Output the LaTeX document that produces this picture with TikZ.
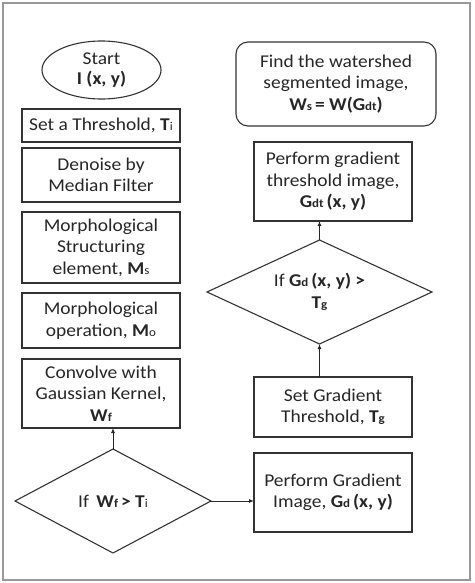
\documentclass[tikz,border=0pt]{standalone}
\usepackage{fontspec}
\setmainfont{Carlito}[FakeStretch=1.08]
\usetikzlibrary{shapes.geometric,arrows.meta}
\newcommand\mysub[1]{{\fontsize{12}{12}\selectfont #1}}
\begin{document}
\begin{tikzpicture}[x=1pt,y=-1pt,
  every node/.style={font=\fontsize{18}{21.5}\selectfont, text=black!85, align=center, inner sep=0pt, outer sep=0pt},
  box/.style={draw=black!80, line width=1.1pt, rectangle, minimum width=158pt},
  rbox/.style={box, rounded corners=12pt},
  oval/.style={draw=black!80, line width=1.1pt, ellipse},
  dia/.style={draw=black!80, line width=1.1pt, diamond},
  arr/.style={draw=black!85, line width=0.9pt, -{Latex[length=5pt,width=4pt]}}
]
\useasboundingbox (0,0) rectangle (474,583);
\draw[gray!80, line width=1.4pt] (3,3) rectangle (470,580);

\node[oval, minimum width=119pt, minimum height=58pt] (start) at (101.5,70) {Start\\[-2pt]\textbf{I (x, y)}};
\node[box, minimum height=33pt] (t1) at (101,125.5) {Set a Threshold, \textbf{T}\mysub{i}};
\node[box, minimum height=54pt] (t2) at (101,175) {Denoise by\\Median Filter};
\node[box, minimum height=71pt] (t3) at (101,247.5) {Morphological\\Structuring\\element, \textbf{M}\mysub{s}};
\node[box, minimum height=55pt] (t4) at (101,320.5) {Morphological\\operation, \textbf{M}\mysub{o}};
\node[box, minimum height=69pt] (t5) at (101,393.5) {Convolve with\\Gaussian Kernel,\\\textbf{W}\mysub{\textbf{f}}};
\node[dia, minimum width=196pt, minimum height=104pt, aspect=1.9] (d1) at (113,501) {If \,\textbf{W}\mysub{\textbf{f}}\,\textbf{> T}\mysub{i}};

\node[box, minimum height=79pt] (g1) at (333,492.5) {Perform Gradient\\Image, \textbf{G}\mysub{\textbf{d}}\,\textbf{(x, y)}};
\node[box, minimum height=60pt] (g2) at (333,407) {Set Gradient\\Threshold, \textbf{T}\mysub{\textbf{g}}};
\node[dia, minimum width=225pt, minimum height=104pt, aspect=2.16] (d2) at (319.5,292) {If \textbf{G}\mysub{\textbf{d}}\,\textbf{(x, y) >}\\\textbf{T}\mysub{\textbf{g}}};
\node[box, minimum height=79pt] (g3) at (333,181.5) {Perform gradient\\threshold image,\\\textbf{G}\mysub{\textbf{dt}}\,\textbf{(x, y)}};
\node[rbox, minimum width=200pt, minimum height=84pt] (g4) at (336,84) {Find the watershed\\segmented image,\\\textbf{W}\mysub{\textbf{s}}\,\textbf{= W(G}\mysub{\textbf{dt}}\textbf{)}};

\draw[arr] (d1.north) -- (d1.north |- t5.south);
\draw[arr] (d1.east) -- (d1.east -| g1.west);
\draw[arr] (d2.south |- g2.north) -- (d2.south);
\draw[arr] (d2.north) -- (d2.north |- g3.south);
\end{tikzpicture}
\end{document}
